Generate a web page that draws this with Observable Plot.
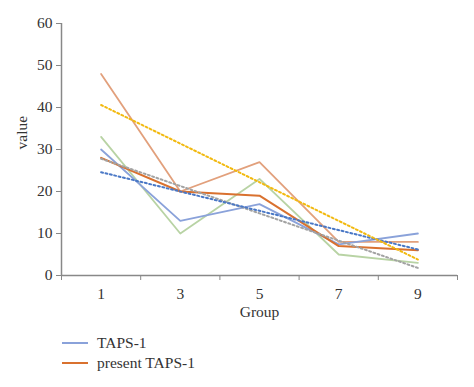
<!DOCTYPE html>
<html>
<head>
<meta charset="utf-8">
<script src="https://cdn.jsdelivr.net/npm/d3@7"></script>
<script src="https://cdn.jsdelivr.net/npm/@observablehq/plot@0.6"></script>
<style>
  html, body { margin: 0; padding: 0; background: #fff; }
  #chart { width: 474px; }
  .legend { font-family: "Liberation Serif", serif; font-size: 15.5px; color: #333; margin-left: 62px; margin-top: 8px; }
  .legend div { display: flex; align-items: center; height: 20px; }
  .legend span.sw { display: inline-block; width: 26px; height: 2px; margin-right: 9px; }
</style>
</head>
<body>
<div id="chart"></div>
<script>
const groups = [1, 3, 5, 7, 9];
const taps1 = [30, 13, 17, 7.4, 10];
const presentTaps1 = [28, 20, 19, 7, 6];
const series3 = [48, 20, 27, 8, 8];
const series4 = [33, 10, 23, 5, 3];
const trendX = [1, 9];
const trendBlue = [24.6, 6.2];
const trendGold = [40.6, 3.8];
const trendGray = [27.8, 1.8];
const yTicks = [0, 10, 20, 30, 40, 50, 60];
const legendNames = ["TAPS-1", "present TAPS-1"];

const colors = {
  taps1: "#8aa2da",
  present: "#d9712f",
  s3: "#e2a07c",
  s4: "#b8d3a4",
  tBlue: "#4a78c6",
  tGold: "#f2b90f",
  tGray: "#a3a3a3"
};

const mk = (vals) => groups.map((g, i) => ({x: g, y: vals[i]}));
const mkT = (vals) => trendX.map((g, i) => ({x: g, y: vals[i]}));

const font = "Liberation Serif";
const fs = 15.5;
const chart = Plot.plot({
  width: 474,
  height: 325,
  marginLeft: 61,
  marginRight: 17,
  marginTop: 23,
  marginBottom: 50,
  style: {fontFamily: font, fontSize: fs + "px", color: "#333", background: "#fff"},
  x: {domain: [0, 10], axis: null},
  y: {domain: [0, 60], axis: null},
  marks: [
    Plot.axisY(yTicks, {tickSize: 5, tickPadding: 4, stroke: "#888", fill: "#333", fontSize: fs, label: null}),
    Plot.axisX([0, 2, 4, 6, 8, 10], {tickSize: 5, stroke: "#888", tickFormat: () => "", label: null}),
    Plot.axisX(groups, {tickSize: 0, tickPadding: 12, fill: "#333", fontSize: fs, label: null}),
    Plot.text(["value"], {frameAnchor: "left", dx: -39, rotate: -90, fontSize: fs, fill: "#333"}),
    Plot.text(["Group"], {x: 5, y: 0, dy: 37, fontSize: fs, fill: "#333"}),
    Plot.ruleX([0], {stroke: "#888", strokeWidth: 1.5}),
    Plot.ruleY([0], {stroke: "#888", strokeWidth: 1.5}),
    Plot.line(mk(series4), {x: "x", y: "y", stroke: colors.s4, strokeWidth: 1.8}),
    Plot.line(mk(series3), {x: "x", y: "y", stroke: colors.s3, strokeWidth: 1.8}),
    Plot.line(mk(taps1), {x: "x", y: "y", stroke: colors.taps1, strokeWidth: 1.8}),
    Plot.line(mk(presentTaps1), {x: "x", y: "y", stroke: colors.present, strokeWidth: 2}),
    Plot.line(mkT(trendGray), {x: "x", y: "y", stroke: colors.tGray, strokeWidth: 2, strokeDasharray: "2,2.5"}),
    Plot.line(mkT(trendBlue), {x: "x", y: "y", stroke: colors.tBlue, strokeWidth: 2, strokeDasharray: "2,2.5"}),
    Plot.line(mkT(trendGold), {x: "x", y: "y", stroke: colors.tGold, strokeWidth: 2, strokeDasharray: "2,2.5"})
  ]
});
document.getElementById("chart").appendChild(chart);

const leg = document.createElement("div");
leg.className = "legend";
[colors.taps1, colors.present].forEach((c, i) => {
  const row = document.createElement("div");
  const sw = document.createElement("span");
  sw.className = "sw";
  sw.style.background = c;
  row.appendChild(sw);
  row.appendChild(document.createTextNode(legendNames[i]));
  leg.appendChild(row);
});
document.getElementById("chart").appendChild(leg);
</script>
</body>
</html>
